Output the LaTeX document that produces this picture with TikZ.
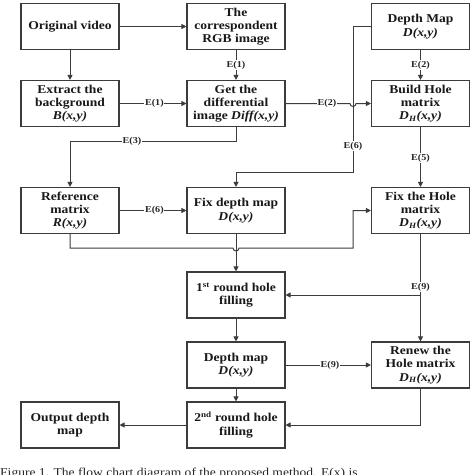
\documentclass[tikz,border=0pt]{standalone}
\usepackage{fontspec}
\setmainfont{Liberation Serif}[FakeStretch=1.13]
\usetikzlibrary{arrows.meta}
\definecolor{linec}{HTML}{3C3C3C}
\begin{document}
\begin{tikzpicture}[x=1pt,y=-1pt,
  box/.style={draw=linec, line width=1.1pt, minimum width=98pt, minimum height=46pt, inner sep=0pt, align=center, font=\bfseries\fontsize{12}{13.3}\selectfont, text=black!90},
  lab/.style={fill=white, inner sep=0.8pt, font=\bfseries\fontsize{9}{9}\selectfont, text=black!85},
  conn/.style={draw=linec, line width=1pt},
  arr/.style={conn, -{Triangle[length=5pt,width=5pt]}}]
\useasboundingbox (0,0) rectangle (474,475);
\clip (0,0) rectangle (474,475);
\fill[white] (0,0) rectangle (474,475);
% boxes
\node[box] (orig) at (70,26.5) {Original video};
\node[box] (rgb) at (236,26.5) {The\\correspondent\\RGB image};
\node[box] (dmap) at (420.5,26.5) {Depth Map\\\textit{D(x,y)}};
\node[box] (bg) at (70,103.5) {Extract the\\background\\\textit{B(x,y)}};
\node[box] (diff) at (236,103.5) {Get the\\differential\\image \textit{Diff(x,y)}};
\node[box] (build) at (420.5,103.5) {Build Hole\\matrix\\\textit{D\textsubscript{H}(x,y)}};
\node[box] (ref) at (70,210.5) {Reference\\matrix\\\textit{R(x,y)}};
\node[box] (fixd) at (236,210.5) {Fix depth map\\\textit{D(x,y)}};
\node[box] (fixh) at (420.5,210.5) {Fix the Hole\\matrix\\\textit{D\textsubscript{H}(x,y)}};
\node[box] (first) at (236,295) {1\textsuperscript{st} round hole\\filling};
\node[box] (dm2) at (236,365) {Depth map\\\textit{D(x,y)}};
\node[box] (renew) at (420.5,365) {Renew the\\Hole matrix\\\textit{D\textsubscript{H}(x,y)}};
\node[box] (out) at (70,425) {Output depth\\map};
\node[box] (second) at (236,425) {2\textsuperscript{nd} round hole\\filling};
% junction coordinates
\coordinate (e3a) at (236,141);
\coordinate (e3b) at (70,141);
\coordinate (e6a) at (353,26.5);
\coordinate (e6b) at (353,172);
\coordinate (e6c) at (236,172);
\coordinate (ra) at (70,248);
\coordinate (rb) at (353,248);
\coordinate (rc) at (353,210.5);
\coordinate (j9) at (420.5,295);
\coordinate (lr) at (420.5,425);
% connectors
\draw[arr] (orig) -- (rgb);
\draw[arr] (orig) -- (bg);
\draw[arr] (rgb) -- node[lab]{E(1)} (diff);
\draw[arr] (bg) -- node[lab, pos=0.52]{E(1)} (diff);
\draw[arr] (dmap) -- node[lab]{E(2)} (build);
\draw[arr] (diff.east) -- (350,103.5) arc[start angle=180, end angle=0, radius=3] -- (build.west);
\node[lab] at (327,103.5) {E(2)};
\draw[arr] (diff.south) -- (e3a) -- (e3b) -- (ref.north);
\node[lab] at (132,141) {E(3)};
\draw[arr] (dmap.west) -- (e6a) -- (e6b) -- (e6c) -- (fixd.north);
\node[lab] at (353,146) {E(6)};
\draw[arr] (build) -- node[lab, pos=0.52]{E(5)} (fixh);
\draw[arr] (ref) -- node[lab, pos=0.52]{E(6)} (fixd);
\draw[arr] (ref.south) -- (ra) -- (233,248) arc[start angle=180, end angle=0, radius=3] -- (rb) -- (rc) -- (fixh.west);
\draw[arr] (fixd) -- (first);
\draw[arr] (fixh.south) -- (renew.north);
\draw[arr] (j9) -- (first.east);
\node[lab] at (420.5,287) {E(9)};
\draw[arr] (first) -- (dm2);
\draw[arr] (dm2) -- node[lab, pos=0.52]{E(9)} (renew);
\draw[arr] (dm2) -- (second);
\draw[arr] (renew.south) -- (lr) -- (second.east);
\draw[arr] (second) -- (out);
% caption (cut off at the bottom, as in the reference)
\node[anchor=base west, inner sep=0pt, font=\fontsize{12}{14}\selectfont, text=black!85] at (0,476) {Figure 1. The flow chart diagram of the proposed method. E(x) is};
\end{tikzpicture}
\end{document}
